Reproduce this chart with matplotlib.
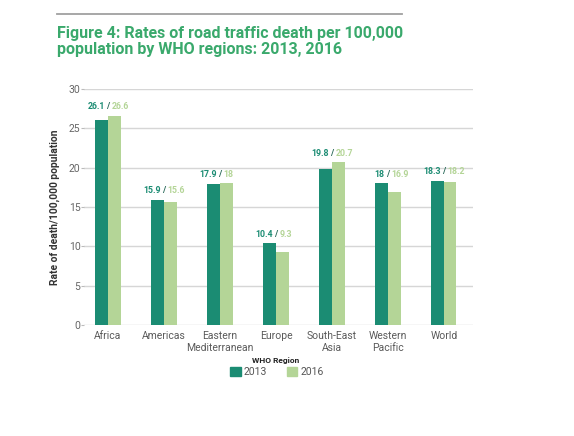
import matplotlib
matplotlib.use("Agg")
import matplotlib.pyplot as plt
import numpy as np
from matplotlib.transforms import offset_copy
from matplotlib.patches import Patch

regions = ["Africa", "Americas", "Eastern\nMediterranean", "Europe",
           "South-East\nAsia", "Western\nPacific", "World"]
rate_2013 = [26.1, 15.9, 17.9, 10.4, 19.8, 18.0, 18.3]
rate_2016 = [26.6, 15.6, 18.0, 9.3, 20.7, 16.9, 18.2]
labels_2013 = ["26.1", "15.9", "17.9", "10.4", "19.8", "18", "18.3"]
labels_2016 = ["26.6", "15.6", "18", "9.3", "20.7", "16.9", "18.2"]
yticks = [0, 5, 10, 15, 20, 25, 30]

DARK = "#1b8c73"
LIGHT = "#b4d597"
TITLE = "#3aa96c"

plt.rcParams['font.family'] = ['Roboto', 'DejaVu Sans']

fig = plt.figure(figsize=(5.74, 4.36), dpi=100)
ax = fig.add_axes([84/574, 1-325/436, (473-84)/574, (325-89)/436])

x = np.arange(len(regions))
w = 0.225
ax.bar(x - w/2, rate_2013, width=w, color=DARK, zorder=3)
ax.bar(x + w/2, rate_2016, width=w, color=LIGHT, zorder=3)

ax.set_xlim(-0.43, 6.52)
ax.set_ylim(0, 30)
ax.set_yticks(yticks)
ax.grid(axis='y', color='#d6d6d6', linewidth=1.0, zorder=0)
ax.set_axisbelow(True)
for s in ax.spines.values():
    s.set_visible(False)
ax.tick_params(axis='y', length=2, color='#bbbbbb', labelsize=7.5,
               labelcolor='#666666', pad=0.5)
ax.tick_params(axis='x', length=0, labelsize=7.5, labelcolor='#5a5a5a', pad=4)
ax.set_xticks(x)
ax.set_xticklabels(regions, linespacing=1.35)
ax.set_ylabel("Rate of death/100,000 population", fontsize=7.4,
              fontweight='bold', color='#333333', labelpad=6)

for i in range(len(regions)):
    top = max(rate_2013[i], rate_2016[i])
    ty = top + 1.15
    ax.text(x[i], ty, "/", ha='center', va='center', fontsize=6.3,
            fontweight='bold', color='#2a6a5a')
    t1 = offset_copy(ax.transData, fig=fig, x=-2.4, y=0, units='points')
    ax.text(x[i], ty, labels_2013[i], ha='right', va='center', fontsize=6.3,
            fontweight='bold', color=DARK, transform=t1)
    t2 = offset_copy(ax.transData, fig=fig, x=2.6, y=0, units='points')
    ax.text(x[i], ty, labels_2016[i], ha='left', va='center', fontsize=6.3,
            fontweight='bold', color=LIGHT, transform=t2)

# title and rule
fig.add_artist(plt.Line2D([57/574, 402/574], [1-14/436, 1-14/436],
                          color='#a0a0a0', linewidth=1.3))
fig.text(57/574, 1-26/436, "Figure 4: Rates of road traffic death per 100,000\npopulation by WHO regions: 2013, 2016",
         ha='left', va='top', fontsize=11.5, fontweight='bold', color=TITLE,
         linespacing=1.1)

# legend
fig.text(276/574, 1-360/436, "WHO Region", ha='center', va='center',
         fontsize=6, fontweight='bold', color='#222222')
handles = [Patch(color=DARK, label="2013"), Patch(color=LIGHT, label="2016")]
fig.legend(handles=handles, loc='center', bbox_to_anchor=(277/574, 1-372/436),
           ncol=2, frameon=False, fontsize=7.5, handlelength=1.0,
           handleheight=1.0, handletextpad=0.3, columnspacing=1.9,
           labelcolor='#555555', borderaxespad=0, borderpad=0)

fig.savefig("out.png", dpi=100, facecolor='white')
